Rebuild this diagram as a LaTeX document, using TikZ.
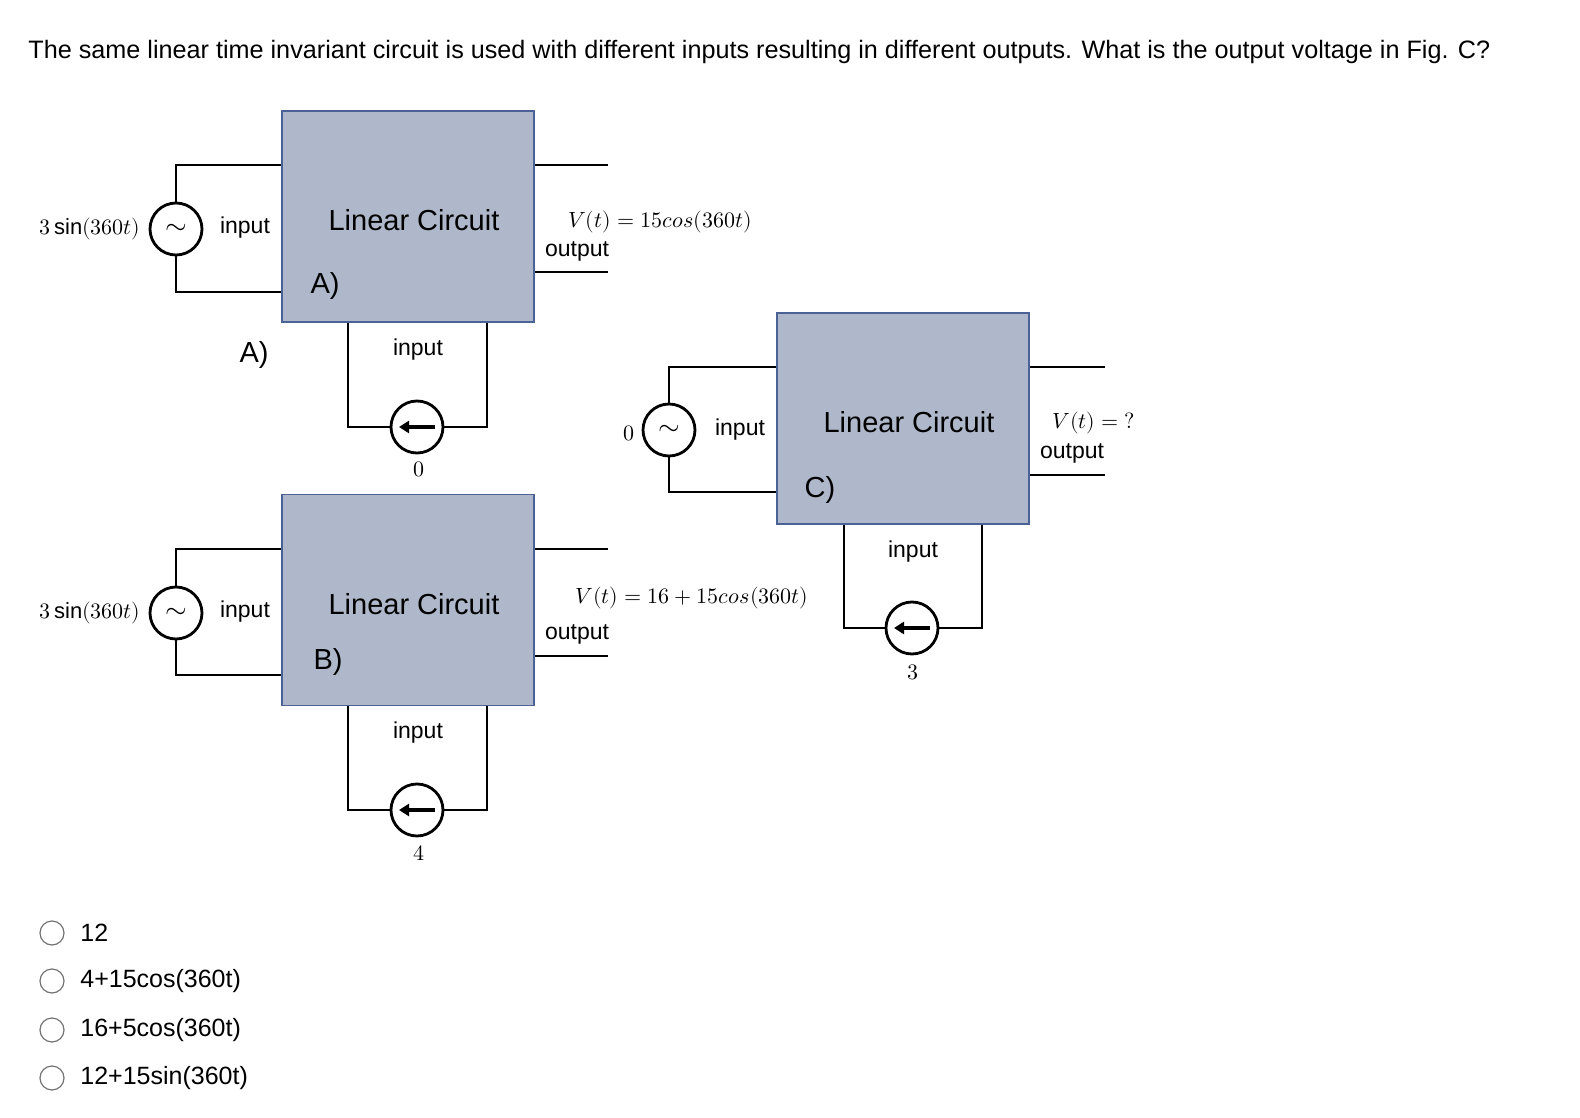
\documentclass[tikz,border=0pt]{standalone}
\usepackage{fontspec}
\setmainfont{Liberation Sans}
\usepackage{unicode-math}
\setmathfont{Latin Modern Math}
\usetikzlibrary{arrows.meta}
\definecolor{blkf}{HTML}{AEB8CA}
\definecolor{blkd}{HTML}{4A6296}
\begin{document}
\begin{tikzpicture}[x=0.5pt,y=-0.5pt,
  blk/.style={draw=blkd, line width=0.8pt, fill=blkf, minimum width=126pt, minimum height=105.5pt, inner sep=0pt},
  w/.style={line width=1.4pt},
  src/.style={circle, draw, line width=1.4pt, fill=white, minimum size=26pt, inner sep=0pt, font=\fontsize{14}{14}\selectfont},
  arr/.style={-{Triangle[length=5pt,width=6pt]}, line width=1.8pt},
  t/.style={font=\fontsize{11.5}{13}\selectfont, inner sep=0pt},
  tb/.style={font=\fontsize{14.5}{16}\selectfont, inner sep=0pt},
  m/.style={font=\fontsize{11}{12}\selectfont, inner sep=0pt},
  opt/.style={font=\fontsize{12.5}{14}\selectfont, inner sep=0pt, anchor=west},
  rad/.style={circle, draw=black!55, line width=0.6pt, minimum size=12pt, inner sep=0pt}]
\useasboundingbox (0,0) rectangle (1580,1118);
\node[font=\fontsize{12.6}{15}\selectfont, anchor=west, inner sep=0pt] (title) at (28,52) {The same linear time invariant circuit is used with different inputs resulting in different outputs. What is the output voltage in Fig. C?};

% ---------- A ----------
\node[blk] (blkA) at (408,216.5) {};
\node[tb] (lcA) at (414,220) {Linear Circuit};
\node[tb] (labA) at (325,286) {A)};
\node[tb] (labA2) at (254,355) {A)};
\node[src] (sA) at (176,229) {$\sim$};
\draw[w] (sA.north) |- (blkA.west |- 0,165);
\draw[w] (sA.south) |- (blkA.west |- 0,292);
\node[m] (vsA) at (90,229) {$3\sin(360t)$};
\node[t] (inA) at (245,228) {input};
\draw[w] (blkA.east |- 0,165) -- (608,165);
\draw[w] (blkA.east |- 0,272) -- (608,272);
\node[m] (vA) at (660,222) {$V(t)=15cos(360t)$};
\node[t] (oA) at (577,251) {output};
\node[src] (dA) at (417,427) {};
\draw[w] (dA.west) -| (blkA.south -| 348,0);
\draw[w] (dA.east) -| (blkA.south -| 487,0);
\draw[arr] ([xshift=9pt]dA.center) -- ([xshift=-9pt]dA.center);
\node[t] (iA) at (418,350) {input};
\node[m] (cA) at (419,469) {$0$};

% ---------- B ----------
\node[blk] (blkB) at (408,600) {};
\node[tb] (lcB) at (414,604) {Linear Circuit};
\node[tb] (labB) at (328,662) {B)};
\node[src] (sB) at (176,613) {$\sim$};
\draw[w] (sB.north) |- (blkB.west |- 0,549);
\draw[w] (sB.south) |- (blkB.west |- 0,675);
\node[m] (vsB) at (90,613) {$3\sin(360t)$};
\node[t] (inB) at (245,612) {input};
\draw[w] (blkB.east |- 0,549) -- (608,549);
\draw[w] (blkB.east |- 0,656) -- (608,656);
\node[m] (vB) at (692,598) {$V(t)=16+15cos(360t)$};
\node[t] (oB) at (577,634) {output};
\node[src] (dB) at (417,810) {};
\draw[w] (dB.west) -| (blkB.south -| 348,0);
\draw[w] (dB.east) -| (blkB.south -| 487,0);
\draw[arr] ([xshift=9pt]dB.center) -- ([xshift=-9pt]dB.center);
\node[t] (iB) at (418,733) {input};
\node[m] (cB) at (419,853) {$4$};

% ---------- C ----------
\node[blk] (blkC) at (903,418.5) {};
\node[tb] (lcC) at (909,422) {Linear Circuit};
\node[tb] (labC) at (820,490) {C)};
\node[src] (sC) at (669,430) {$\sim$};
\draw[w] (sC.north) |- (blkC.west |- 0,367);
\draw[w] (sC.south) |- (blkC.west |- 0,492);
\node[m] (vsC) at (629,433) {$0$};
\node[t] (inC) at (740,430) {input};
\draw[w] (blkC.east |- 0,367) -- (1105,367);
\draw[w] (blkC.east |- 0,475) -- (1105,475);
\node[m] (vC) at (1094,423) {$V(t)=?$};
\node[t] (oC) at (1072,453) {output};
\node[src] (dC) at (912,628) {};
\draw[w] (dC.west) -| (blkC.south -| 844,0);
\draw[w] (dC.east) -| (blkC.south -| 982,0);
\draw[arr] ([xshift=9pt]dC.center) -- ([xshift=-9pt]dC.center);
\node[t] (iC) at (913,552) {input};
\node[m] (cC) at (913,672) {$3$};

% ---------- options ----------
\node[rad] (r1) at (52,933) {};
\node[rad] (r2) at (52,981) {};
\node[rad] (r3) at (52,1030) {};
\node[rad] (r4) at (52,1078) {};
\node[opt] (o1) at (80,933) {12};
\node[opt] (o2) at (80,981) {4+15cos(360t)};
\node[opt] (o3) at (80,1030) {16+5cos(360t)};
\node[opt] (o4) at (80,1078) {12+15sin(360t)};
\end{tikzpicture}
\end{document}
